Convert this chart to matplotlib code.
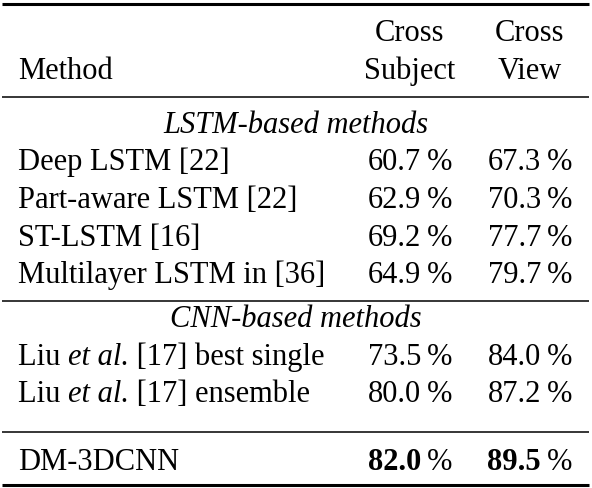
import matplotlib
matplotlib.use("Agg")
import matplotlib.pyplot as plt

FONT = "Liberation Serif"
FS = 22

headers_top = ["", "Cross", "Cross"]
headers_bot = ["Method", "Subject", "View"]
group_titles = ["LSTM-based methods", "CNN-based methods"]

# method names as segments (text, italic?)
lstm_methods = [
    [("Deep LSTM [22]", False)],
    [("Part-aware LSTM [22]", False)],
    [("ST-LSTM [16]", False)],
    [("Multilayer LSTM in [36]", False)],
]
lstm_cs = [60.7, 62.9, 69.2, 64.9]
lstm_cv = [67.3, 70.3, 77.7, 79.7]

cnn_methods = [
    [("Liu ", False), ("et al.", True), (" [17] best single", False)],
    [("Liu ", False), ("et al.", True), (" [17] ensemble", False)],
]
cnn_cs = [73.5, 80.0]
cnn_cv = [84.0, 87.2]

ours_method = [("DM-3DCNN", False)]
ours_cs = 82.0
ours_cv = 89.5

W, H = 592, 488
fig = plt.figure(figsize=(W / 100, H / 100), dpi=100)
ax = fig.add_axes([0, 0, 1, 1])
ax.set_xlim(0, W)
ax.set_ylim(H, 0)
ax.axis("off")
fig.canvas.draw()
renderer = fig.canvas.get_renderer()

def width_of(s, **kw):
    t = ax.text(0, 0, s, fontsize=FS, family=FONT, **kw)
    bb = t.get_window_extent(renderer=renderer)
    t.remove()
    return bb.width  # pixels == data units here

def draw_segments(segs, x, y, ha="left"):
    widths = [width_of(s, **kw) for s, kw in segs]
    total = sum(widths)
    if ha == "center":
        x0 = x - total / 2
    elif ha == "right":
        x0 = x - total
    else:
        x0 = x
    for (s, kw), w in zip(segs, widths):
        ax.text(x0, y, s, fontsize=FS, family=FONT, va="baseline", ha="left", **kw)
        x0 += w

def method(segs, y):
    draw_segments([(s, {"style": "italic"} if it else {}) for s, it in segs], 18, y)

def value(v, x, y, bold=False):
    kw = {"weight": "bold"} if bold else {}
    draw_segments([(f"{v:.1f}", kw), ("\u2009%", {})], x, y, ha="center")

XL, X1, X2 = 18, 410, 530

# rules
ax.plot([2, 589], [3.5, 3.5], color="black", lw=2.2, solid_capstyle="butt")
ax.plot([2, 589], [97, 97], color="black", lw=1.1, solid_capstyle="butt")
ax.plot([2, 589], [301, 301], color="black", lw=1.1, solid_capstyle="butt")
ax.plot([2, 589], [432, 432], color="black", lw=1.1, solid_capstyle="butt")
ax.plot([2, 589], [485, 485], color="black", lw=2.2, solid_capstyle="butt")

# header
ax.text(X1, 41, headers_top[1], fontsize=FS, family=FONT, ha="center", va="baseline")
ax.text(X2, 41, headers_top[2], fontsize=FS, family=FONT, ha="center", va="baseline")
ax.text(XL, 79, headers_bot[0], fontsize=FS, family=FONT, ha="left", va="baseline")
ax.text(X1, 79, headers_bot[1], fontsize=FS, family=FONT, ha="center", va="baseline")
ax.text(X2, 79, headers_bot[2], fontsize=FS, family=FONT, ha="center", va="baseline")

# LSTM group
ax.text(296, 133, group_titles[0], fontsize=FS, family=FONT, style="italic", ha="center", va="baseline")
ys = [170, 208, 246, 283]
for segs, cs, cv, y in zip(lstm_methods, lstm_cs, lstm_cv, ys):
    method(segs, y)
    value(cs, X1, y)
    value(cv, X2, y)

# CNN group
ax.text(296, 327, group_titles[1], fontsize=FS, family=FONT, style="italic", ha="center", va="baseline")
ys = [365, 402]
for segs, cs, cv, y in zip(cnn_methods, cnn_cs, cnn_cv, ys):
    method(segs, y)
    value(cs, X1, y)
    value(cv, X2, y)

# ours
method(ours_method, 470)
value(ours_cs, X1, 470, bold=True)
value(ours_cv, X2, 470, bold=True)

fig.savefig("out.png", dpi=100)
